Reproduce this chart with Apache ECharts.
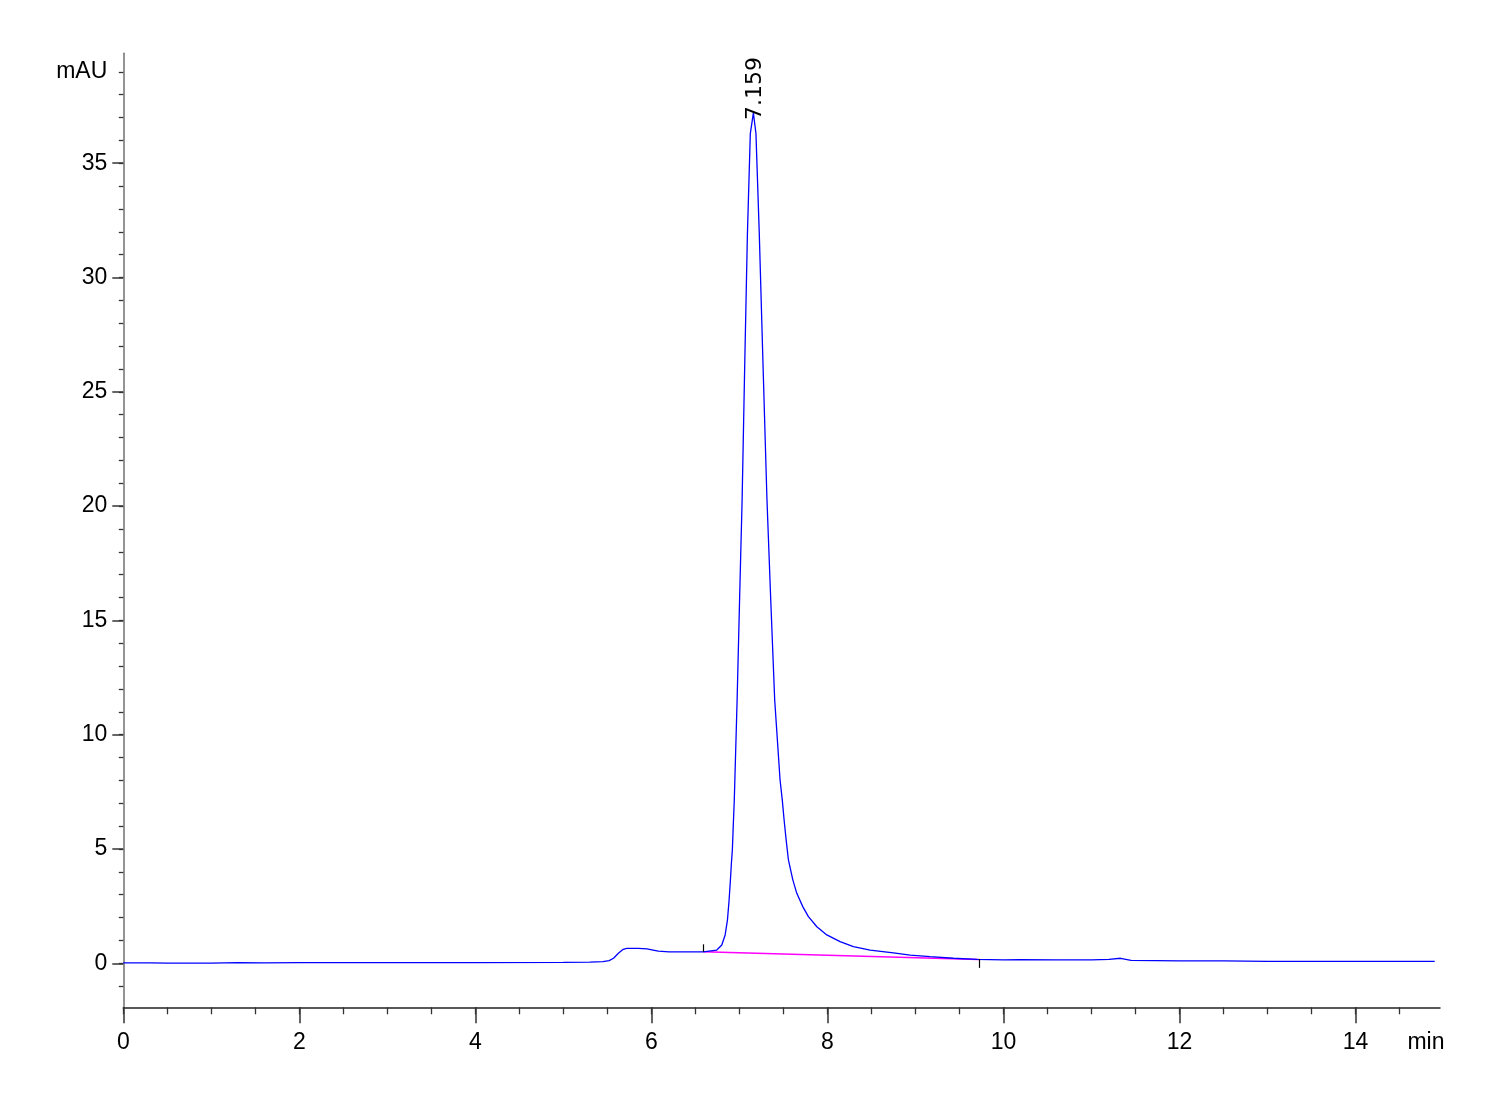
<!DOCTYPE html>
<html><head><meta charset="utf-8">
<script src="https://cdn.jsdelivr.net/npm/echarts@6/dist/echarts.min.js"></script>
<style>html,body{margin:0;padding:0;background:#fff}#c{width:1500px;height:1100px}</style>
</head><body><div id="c"></div>
<script>
// ---- data ----
const timeMin = [0,0.3,0.5,1.0,1.3,1.6,2.0,3.0,4.0,5.0,5.3,5.45,5.52,5.57,5.625,5.68,5.72,5.85,5.95,6.02,6.08,6.2,6.59,
  6.743,6.800,6.838,6.864,6.883,6.898,6.909,6.920,6.930,6.942,6.974,7.002,7.031,7.060,7.091,7.124,7.159,
  7.188,7.226,7.269,7.313,7.356,7.401,7.462,7.487,7.508,7.531,7.557,7.607,7.652,7.720,7.784,7.880,7.993,8.144,
  8.295,8.485,8.750,8.940,9.167,9.432,9.698,10.0,10.19,10.6,11.0,11.2,11.33,11.45,12.0,12.5,13.0,13.5,14.0,14.5,14.9];
const absorbance = [0.02,0.02,0.01,0.01,0.03,0.02,0.03,0.03,0.03,0.04,0.05,0.07,0.12,0.22,0.44,0.61,0.65,0.65,0.63,0.58,0.53,0.50,0.50,
  0.58,0.80,1.24,1.89,2.77,3.65,4.38,4.96,6.0,7.14,11.52,15.9,20.3,26.1,31.9,36.3,37.2,
  36.3,31.9,26.1,20.3,15.9,11.52,8.02,7.15,6.27,5.40,4.52,3.65,3.06,2.48,2.04,1.60,1.24,0.95,
  0.73,0.58,0.46,0.36,0.29,0.22,0.17,0.15,0.16,0.15,0.15,0.17,0.22,0.13,0.11,0.11,0.08,0.08,0.08,0.08,0.08];
const baselineTime = [6.59, 9.72];
const baselineValue = [0.50, 0.17];
const markerTime = [6.59, 9.72];
const markerTop = [0.83, 0.19];
const markerBottom = [0.50, -0.2];
const peakTime = 7.159;
const peakHeight = 37.2;
const peakLabel = '7.159';
const xMajorTicks = [0,2,4,6,8,10,12,14];
const xMinorTicks = [0,0.5,1,1.5,2,2.5,3,3.5,4,4.5,5,5.5,6,6.5,7,7.5,8,8.5,9,9.5,10,10.5,11,11.5,12,12.5,13,13.5,14,14.5];
const xUnitPos = 14.8, xUnit = 'min';
const yMajorTicks = [0,5,10,15,20,25,30,35];
const yMinorTicks = [-1,0,1,2,3,4,5,6,7,8,9,10,11,12,13,14,15,16,17,18,19,20,21,22,23,24,25,26,27,28,29,30,31,32,33,34,35,36,37,38,39];
const yUnitPos = 39, yUnit = 'mAU';
const xRange = [0, 14.96];
const yRange = [-1.925, 39.81];

// ---- chart ----
const FONT = "'Liberation Sans',Arial,sans-serif";
const chart = echarts.init(document.getElementById('c'), null, {renderer:'canvas'});
const lineData = timeMin.map((t,i)=>[t, absorbance[i]]);
const baseData = baselineTime.map((t,i)=>[t, baselineValue[i]]);
const markerLines = markerTime.map((t,i)=>[{coord:[t, markerTop[i]]},{coord:[t, markerBottom[i]]}]);

const xAxisBase = {type:'value', min:xRange[0], max:xRange[1], position:'bottom', splitLine:{show:false}};
const yAxisBase = {type:'value', min:yRange[0], max:yRange[1], position:'left', splitLine:{show:false}};

chart.setOption({
  animation:false,
  backgroundColor:'#ffffff',
  grid:{left:123.3, right:60, top:53.3, bottom:92.7, containLabel:false, outerBoundsMode:'none'},
  xAxis:[
    Object.assign({}, xAxisBase, {
      axisLine:{show:true, onZero:false, lineStyle:{color:'#222', width:1.5}},
      axisTick:{show:true, length:16, customValues:xMajorTicks, lineStyle:{color:'#333', width:1.5}},
      axisLabel:{show:true, margin:24, customValues:xMajorTicks.concat([xUnitPos]), fontFamily:FONT, fontSize:23, color:'#000',
        formatter:v=> (Math.abs(v-xUnitPos)<1e-6 ? xUnit : String(v))}
    }),
    Object.assign({}, xAxisBase, {
      axisLine:{show:false, onZero:false},
      axisTick:{show:true, length:7, customValues:xMinorTicks, lineStyle:{color:'#333', width:1.3}},
      axisLabel:{show:false}
    })
  ],
  yAxis:[
    Object.assign({}, yAxisBase, {
      axisLine:{show:true, onZero:false, lineStyle:{color:'#707070', width:1.5}},
      axisTick:{show:true, length:11, customValues:yMajorTicks, lineStyle:{color:'#666', width:2}},
      axisLabel:{show:true, margin:16, customValues:yMajorTicks.concat([yUnitPos]), fontFamily:FONT, fontSize:23, color:'#000',
        formatter:v=> (Math.abs(v-yUnitPos)<1e-6 ? yUnit : String(v))}
    }),
    Object.assign({}, yAxisBase, {
      axisLine:{show:false, onZero:false},
      axisTick:{show:true, length:4.5, customValues:yMinorTicks, lineStyle:{color:'#333', width:1.3}},
      axisLabel:{show:false}
    })
  ],
  series:[
    {
      name:'baseline', type:'line', xAxisIndex:0, yAxisIndex:0, data:baseData, showSymbol:false,
      lineStyle:{color:'#ff00ff', width:1.5}, z:3,
      markLine:{silent:true, symbol:['none','none'], label:{show:false}, lineStyle:{color:'#000', width:1.2, type:'solid'}, data:markerLines}
    },
    {
      name:'signal', type:'line', xAxisIndex:0, yAxisIndex:0, data:lineData, showSymbol:false,
      smooth:false,
      lineStyle:{color:'#0000ff', width:1.3}, z:4,
      markPoint:{
        silent:true, symbol:'circle', symbolSize:0,
        data:[{coord:[peakTime, peakHeight]}],
        label:{show:true, formatter:peakLabel, rotate:90, position:[0,0], offset:[-7,2], align:'left', verticalAlign:'middle',
          fontFamily:"'DejaVu Sans',sans-serif", fontSize:22, color:'#000'}
      }
    }
  ]
});
</script>
</body></html>
